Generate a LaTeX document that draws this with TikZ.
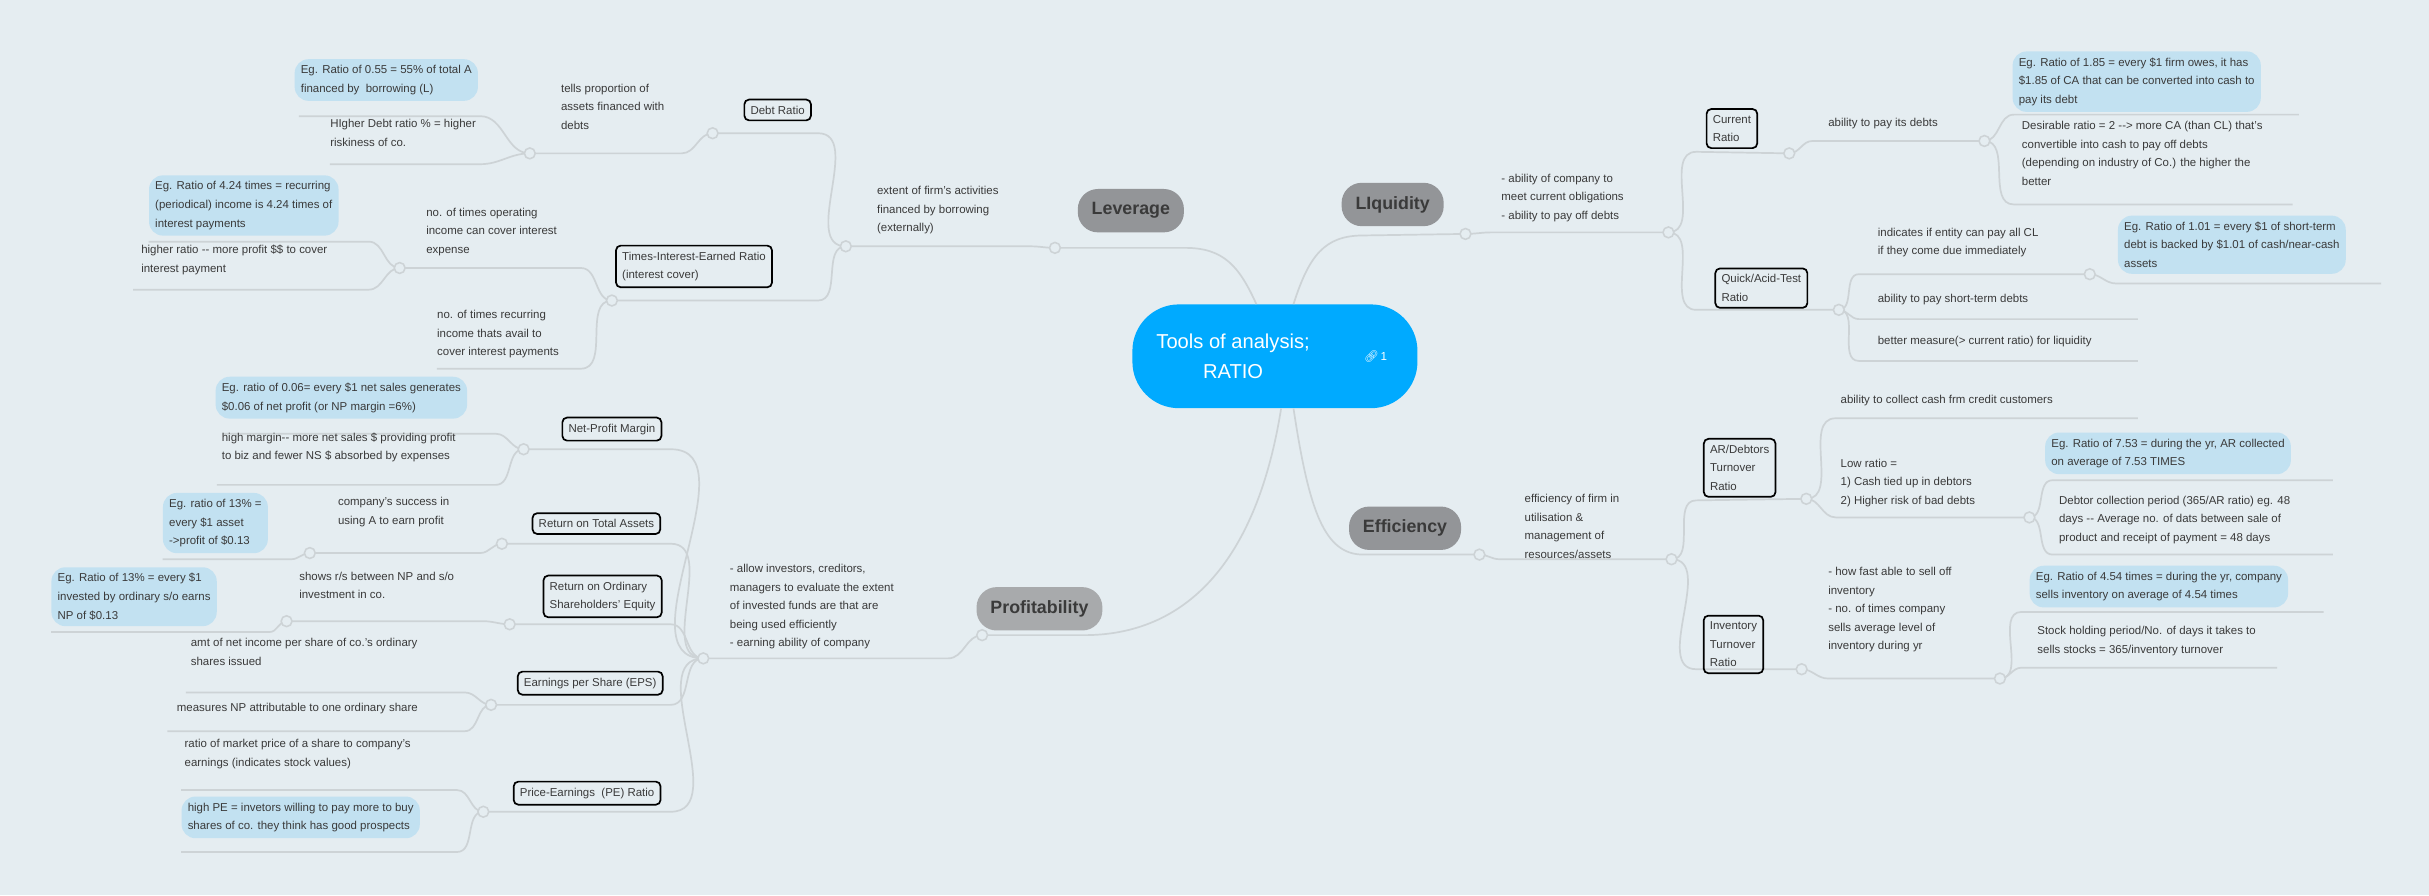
\documentclass[tikz,border=0pt]{standalone}
\usepackage{fontspec}
\setmainfont{Liberation Sans}
\newfontfamily\emo{Noto Emoji}
\definecolor{bg}{HTML}{E5EDF1}
\definecolor{lc}{HTML}{CDD3D6}
\definecolor{bc}{HTML}{C2E1F1}
\definecolor{gc}{HTML}{939598}
\definecolor{gcl}{HTML}{A8AAAC}
\definecolor{tc}{HTML}{3A3A3A}
\definecolor{ctr}{HTML}{00AAFF}
\newcommand{\fs}{\fontsize{7.4}{12}\selectfont}
\tikzset{
 conn/.style={draw=lc, line width=1.1pt},
 txt/.style={anchor=north west, inner sep=0pt, align=left, font=\fs, text=tc},
 rbox/.style={draw=black, line width=1.1pt, rounded corners=3pt, inner xsep=4pt, inner ysep=4pt, align=left, font=\fs, text=tc},
 bluebox/.style={fill=bc, rounded corners=9pt, inner xsep=4pt, inner ysep=4pt, anchor=north west, align=left, font=\fs, text=tc},
 topic/.style={fill=#1, rounded corners=13pt, minimum height=28pt, inner xsep=9pt, font=\bfseries\fontsize{11.5}{13}\selectfont, text=tc, drop shadow/.try},
 dotc/.style={circle, draw=lc, fill=bg, line width=1pt, minimum size=7pt, inner sep=0pt}
}
\begin{document}
\begin{tikzpicture}[x=1pt,y=-1pt]
\fill[bg] (0,0) rectangle (1568,578);
\useasboundingbox (0,0) rectangle (1568,578);
% coordinates for joints
\foreach \n/\x/\y in {cL/681/160,cLa/546/159,cD/460/86,cDa/342/99,cT/395/194,cTa/258/173,
 cP/634/410,cPa/454/425,cN/338/290,cR/324/351,cRa/200/357,cS/329/403,cSa/185/401,cE/317/455,cPE/312/524,
 cQ/946/151,cQa/1077/150,cC/1155/99,cCa/1281/91,cK/1187/200,cKa/1349/177,
 cF/955/358,cFa/1079/361,cA/1166/322,cAa/1310/334,cI/1163/432,cIa/1291/438}
 {\coordinate (\n) at (\x,\y);}
% center
\node[fill=ctr, rounded corners=30pt, minimum width=184pt, minimum height=67pt] (root) at (823,230) {};
\node[text=white, align=center, font=\fontsize{13}{19}\selectfont] (roottxt) at (796,230) {Tools of analysis;\\RATIO};
\node[text=white, font=\fontsize{7.5}{9}\selectfont] (link) at (888,230) {{\emo 🔗}\,1};
% center curves
\draw[conn] (root.north) ++(-12,0) coordinate (r1) .. controls (800,172) and (790,160) .. (765,160) -- (cL);
\draw[conn] (root.north) ++(12,0) coordinate (r2) .. controls (845,165) and (855,152) .. (880,152) -- (cQ);
\draw[conn] (root.south) ++(12,0) coordinate (r3) .. controls (845,330) and (855,358) .. (880,358) -- (cF);
\draw[conn] (root.south) ++(4,0) coordinate (r4) .. controls (810,370) and (760,410) .. (700,410) -- (cP);
% topics
\node[topic=gc] (lev) at (730,136) {Leverage};
\node[topic=gc] (liq) at (899,132) {LIquidity};
\node[topic=gc] (eff) at (907,341) {Efficiency};
\node[topic=gcl] (pro) at (671,393) {Profitability};

% ---------------- Leverage
\draw[conn] (cL) to[out=180,in=0] (665,159) -- (cLa);
\node[txt] (levt) at (566,120) {extent of firm's activities\\financed by borrowing\\(externally)};
\draw[conn] (cLa) to[out=180,in=0] (528,86) -- (cD);
\draw[conn] (cLa) to[out=180,in=0] (528,194) -- (cT);
\node[rbox] (debt) at (502,71) {Debt Ratio};
\node[rbox] (tie) at (448,172) {Times-Interest-Earned Ratio\\(interest cover)};
\draw[conn] (cD) to[out=180,in=0] (440,99) -- (cDa);
\node[txt] (dt1) at (362,54) {tells proportion of\\assets financed with\\debts};
\draw[conn] (cDa) to[out=180,in=0] (310,75) -- (193,75);
\draw[conn] (cDa) to[out=180,in=0] (310,106) -- (213,106);
\node[bluebox] (db1) at (190,38) {Eg. Ratio of 0.55 = 55\% of total A\\financed by\ \ borrowing (L)};
\node[txt] (db2) at (213,77) {HIgher Debt ratio \% = higher\\riskiness of co.};
\draw[conn] (cT) to[out=180,in=0] (375,173) -- (cTa);
\draw[conn] (cT) to[out=180,in=0] (375,238) -- (282,238);
\node[txt] (tt1) at (275,134) {no. of times operating\\income can cover interest\\expense};
\node[txt] (tt2) at (282,200) {no. of times recurring\\income thats avail to\\cover interest payments};
\draw[conn] (cTa) to[out=180,in=0] (238,156) -- (96,156);
\draw[conn] (cTa) to[out=180,in=0] (238,187) -- (86,187);
\node[bluebox] (tb1) at (96,113) {Eg. Ratio of 4.24 times = recurring\\(periodical) income is 4.24 times of\\interest payments};
\node[txt] (tb2) at (91,158) {higher ratio -{}- more profit \$\$ to cover\\interest payment};

% ---------------- Profitability
\draw[conn] (cP) to[out=180,in=0] (612,425) -- (cPa);
\node[txt] (prot) at (471,364) {- allow investors, creditors,\\managers to evaluate the extent\\of invested funds are that are\\being used efficiently\\- earning ability of company};
\draw[conn] (cPa) to[out=180,in=0] (433,290) -- (cN);
\draw[conn] (cPa) to[out=180,in=0] (433,351) -- (cR);
\draw[conn] (cPa) to[out=180,in=0] (433,403) -- (cS);
\draw[conn] (cPa) to[out=180,in=0] (433,455) -- (cE);
\draw[conn] (cPa) to[out=180,in=0] (433,524) -- (cPE);
\node[rbox] (npm) at (395,277) {Net-Profit Margin};
\node[rbox] (rta) at (385,338) {Return on Total Assets};
\node[rbox] (rose) at (389,385) {Return on Ordinary\\Shareholders' Equity};
\node[rbox] (eps) at (381,441) {Earnings per Share (EPS)};
\node[rbox] (pe) at (379,512) {Price-Earnings\ \ (PE) Ratio};
\draw[conn] (cN) to[out=180,in=0] (320,280) -- (144,280);
\draw[conn] (cN) to[out=180,in=0] (320,313) -- (140,313);
\node[bluebox] (n1) at (139,243) {Eg. ratio of 0.06= every \$1 net sales generates\\\$0.06 of net profit (or NP margin =6\%)};
\node[txt] (n2) at (143,279) {high margin-{}- more net sales \$ providing profit\\to biz and fewer NS \$ absorbed by expenses};
\draw[conn] (cR) to[out=180,in=0] (310,357) -- (cRa);
\node[txt] (r1t) at (218,321) {company's success in\\using A to earn profit};
\draw[conn] (cRa) to[out=180,in=0] (188,361) -- (105,361);
\node[bluebox] (r2t) at (105,318) {Eg. ratio of 13\% =\\every \$1 asset\\->profit of \$0.13};
\draw[conn] (cS) to[out=180,in=0] (312,401) -- (cSa);
\node[txt] (s1t) at (193,369) {shows r/s between NP and s/o\\investment in co.};
\draw[conn] (cSa) to[out=180,in=0] (174,408) -- (33,408);
\node[bluebox] (s2t) at (33,366) {Eg. Ratio of 13\% = every \$1\\invested by ordinary s/o earns\\NP of \$0.13};
\draw[conn] (cE) to[out=180,in=0] (300,447) -- (120,447);
\draw[conn] (cE) to[out=180,in=0] (300,472) -- (108,472);
\node[txt] (e1t) at (123,412) {amt of net income per share of co.'s ordinary\\shares issued};
\node[txt] (e2t) at (114,454) {measures NP attributable to one ordinary share};
\draw[conn] (cPE) to[out=180,in=0] (295,510) -- (117,510);
\draw[conn] (cPE) to[out=180,in=0] (295,550) -- (117,550);
\node[txt] (p1t) at (119,477) {ratio of market price of a share to company's\\earnings (indicates stock values)};
\node[bluebox] (p2t) at (117,514) {high PE = invetors willing to pay more to buy\\shares of co. they think has good prospects};

% ---------------- Liquidity
\draw[conn] (cQ) to[out=0,in=180] (963,150) -- (cQa);
\node[txt] (liqt) at (969,112) {- ability of company to\\meet current obligations\\- ability to pay off debts};
\draw[conn] (cQa) to[out=0,in=180] (1095,98) -- (cC);
\draw[conn] (cQa) to[out=0,in=180] (1095,200) -- (cK);
\node[rbox] (cur) at (1118,83) {Current\\Ratio};
\node[rbox] (qk) at (1137,186) {Quick/Acid-Test\\Ratio};
\draw[conn] (cC) to[out=0,in=180] (1170,91) -- (cCa);
\node[txt] (c1t) at (1180,76) {ability to pay its debts};
\draw[conn] (cCa) to[out=0,in=180] (1300,74) -- (1484,74);
\draw[conn] (cCa) to[out=0,in=180] (1300,132) -- (1480,132);
\node[bluebox] (c2t) at (1299,33) {Eg. Ratio of 1.85 = every \$1 firm owes, it has\\\$1.85 of CA that can be converted into cash to\\pay its debt};
\node[txt] (c3t) at (1305,78) {Desirable ratio = 2 -{}-> more CA (than CL) that's\\convertible into cash to pay off debts\\(depending on industry of Co.) the higher the\\better};
\draw[conn] (cK) to[out=0,in=180] (1200,177) -- (cKa);
\draw[conn] (cK) to[out=0,in=180] (1200,206) -- (1380,206);
\draw[conn] (cK) to[out=0,in=180] (1200,233) -- (1380,233);
\node[txt] (k1t) at (1212,147) {indicates if entity can pay all CL\\if they come due immediately};
\node[txt] (k2t) at (1212,190) {ability to pay short-term debts};
\node[txt] (k3t) at (1212,217) {better measure(> current ratio) for liquidity};
\draw[conn] (cKa) to[out=0,in=180] (1366,183) -- (1537,183);
\node[bluebox] (k4t) at (1367,139) {Eg. Ratio of 1.01 = every \$1 of short-term\\debt is backed by \$1.01 of cash/near-cash\\assets};

% ---------------- Efficiency
\draw[conn] (cF) to[out=0,in=180] (968,361) -- (cFa);
\node[txt] (efft) at (984,319) {efficiency of firm in\\utilisation \&\\management of\\resources/assets};
\draw[conn] (cFa) to[out=0,in=180] (1095,323) -- (cA);
\draw[conn] (cFa) to[out=0,in=180] (1095,432) -- (cI);
\node[rbox] (ar) at (1123,302) {AR/Debtors\\Turnover\\Ratio};
\node[rbox] (inv) at (1119,416) {Inventory\\Turnover\\Ratio};
\draw[conn] (cA) to[out=0,in=180] (1185,270) -- (1380,270);
\draw[conn] (cA) to[out=0,in=180] (1185,334) -- (cAa);
\node[txt] (a1t) at (1188,255) {ability to collect cash frm credit customers};
\node[txt] (a2t) at (1188,296) {Low ratio =\\1) Cash tied up in debtors\\2) Higher risk of bad debts};
\draw[conn] (cAa) to[out=0,in=180] (1325,310) -- (1506,310);
\draw[conn] (cAa) to[out=0,in=180] (1325,358) -- (1506,358);
\node[bluebox] (a3t) at (1320,279) {Eg. Ratio of 7.53 = during the yr, AR collected\\on average of 7.53 TIMES};
\node[txt] (a4t) at (1329,320) {Debtor collection period (365/AR ratio) eg. 48\\days -{}- Average no. of dats between sale of\\product and receipt of payment = 48 days};
\draw[conn] (cI) to[out=0,in=180] (1180,438) -- (cIa);
\node[txt] (i1t) at (1180,366) {- how fast able to sell off\\inventory\\- no. of times company\\sells average level of\\inventory during yr};
\draw[conn] (cIa) to[out=0,in=180] (1305,395) -- (1500,395);
\draw[conn] (cIa) to[out=0,in=180] (1305,431) -- (1470,431);
\node[bluebox] (i2t) at (1310,365) {Eg. Ratio of 4.54 times = during the yr, company\\sells inventory on average of 4.54 times};
\node[txt] (i3t) at (1315,404) {Stock holding period/No. of days it takes to\\sells stocks = 365/inventory turnover};

% joint dots
\foreach \n in {cL,cLa,cD,cDa,cT,cTa,cP,cPa,cN,cR,cRa,cS,cSa,cE,cPE,cQ,cQa,cC,cCa,cK,cKa,cF,cFa,cA,cAa,cI,cIa}
 {\node[dotc] at (\n) {};}
\end{tikzpicture}
\end{document}
